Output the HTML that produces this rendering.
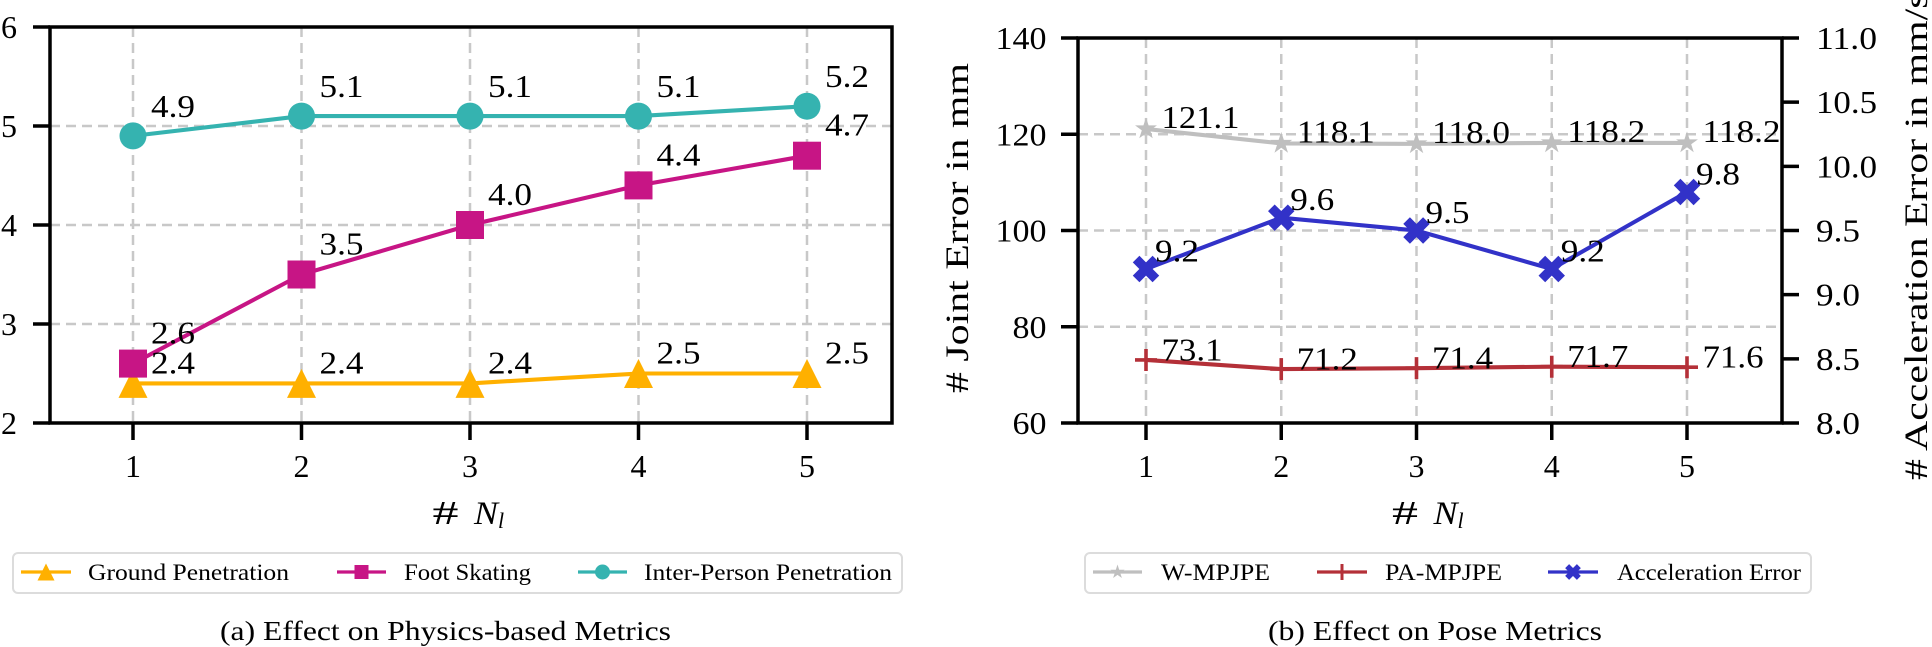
<!DOCTYPE html>
<html><head><meta charset="utf-8"><style>
html,body{margin:0;padding:0;background:#fff;}
svg{display:block;}
text{font-family:"Liberation Serif","DejaVu Serif",serif;fill:#000;}
</style></head><body>
<svg width="1932" height="647" viewBox="0 0 1932 647" xmlns="http://www.w3.org/2000/svg">
<defs>
<polygon id="star" points="0,-11.5 2.58,-3.55 10.94,-3.55 4.18,1.36 6.76,9.3 0,4.39 -6.76,9.3 -4.18,1.36 -10.94,-3.55 -2.58,-3.55" fill="#bfbfbf"/>
<polygon id="xm" points="-4.7,-14 4.7,-14 4.7,-4.7 14,-4.7 14,4.7 4.7,4.7 4.7,14 -4.7,14 -4.7,4.7 -14,4.7 -14,-4.7 -4.7,-4.7" fill="#3232c8" transform="rotate(45)"/>
<polygon id="xs" points="-2.8,-8.3 2.8,-8.3 2.8,-2.8 8.3,-2.8 8.3,2.8 2.8,2.8 2.8,8.3 -2.8,8.3 -2.8,2.8 -8.3,2.8 -8.3,-2.8 -2.8,-2.8" fill="#3232c8" transform="rotate(45)"/>
</defs>
<rect width="1932" height="647" fill="#fff"/>

<!-- ================= Chart A ================= -->
<g stroke="#c8c8c8" stroke-width="2.5" stroke-dasharray="10 6" fill="none">
<line x1="133" y1="27" x2="133" y2="423"/>
<line x1="301.5" y1="27" x2="301.5" y2="423"/>
<line x1="470" y1="27" x2="470" y2="423"/>
<line x1="638.5" y1="27" x2="638.5" y2="423"/>
<line x1="807" y1="27" x2="807" y2="423"/>
<line x1="50" y1="126" x2="892" y2="126"/>
<line x1="50" y1="225" x2="892" y2="225"/>
<line x1="50" y1="324" x2="892" y2="324"/>
</g>

<!-- Ground Penetration -->
<polyline points="133,383.4 301.5,383.4 470,383.4 638.5,373.5 807,373.5" fill="none" stroke="#ffb000" stroke-width="4.1"/>
<g fill="#ffb000">
<polygon points="133,368.9 118.5,397.9 147.5,397.9"/>
<polygon points="301.5,368.9 287,397.9 316,397.9"/>
<polygon points="470,368.9 455.5,397.9 484.5,397.9"/>
<polygon points="638.5,359 624,388 653,388"/>
<polygon points="807,359 792.5,388 821.5,388"/>
</g>
<!-- Foot Skating -->
<polyline points="133,363.6 301.5,274.5 470,225 638.5,185.4 807,155.7" fill="none" stroke="#c71585" stroke-width="4.1"/>
<g fill="#c71585">
<rect x="119" y="349.6" width="28" height="28"/>
<rect x="287.5" y="260.5" width="28" height="28"/>
<rect x="456" y="211" width="28" height="28"/>
<rect x="624.5" y="171.4" width="28" height="28"/>
<rect x="793" y="141.7" width="28" height="28"/>
</g>
<!-- Inter-Person Penetration -->
<polyline points="133,135.9 301.5,116.1 470,116.1 638.5,116.1 807,106.2" fill="none" stroke="#35b3b0" stroke-width="4.1"/>
<g fill="#35b3b0">
<circle cx="133" cy="135.9" r="13.5"/>
<circle cx="301.5" cy="116.1" r="13.5"/>
<circle cx="470" cy="116.1" r="13.5"/>
<circle cx="638.5" cy="116.1" r="13.5"/>
<circle cx="807" cy="106.2" r="13.5"/>
</g>

<g font-size="32">
<text x="151" y="116.9" textLength="44" lengthAdjust="spacingAndGlyphs">4.9</text>
<text x="319.5" y="97.1" textLength="44" lengthAdjust="spacingAndGlyphs">5.1</text>
<text x="488" y="97.1" textLength="44" lengthAdjust="spacingAndGlyphs">5.1</text>
<text x="656.5" y="97.1" textLength="44" lengthAdjust="spacingAndGlyphs">5.1</text>
<text x="825" y="87.2" textLength="44" lengthAdjust="spacingAndGlyphs">5.2</text>
<text x="151" y="343.6" textLength="44" lengthAdjust="spacingAndGlyphs">2.6</text>
<text x="319.5" y="254.5" textLength="44" lengthAdjust="spacingAndGlyphs">3.5</text>
<text x="488" y="205" textLength="44" lengthAdjust="spacingAndGlyphs">4.0</text>
<text x="656.5" y="165.4" textLength="44" lengthAdjust="spacingAndGlyphs">4.4</text>
<text x="825" y="135.7" textLength="44" lengthAdjust="spacingAndGlyphs">4.7</text>
<text x="151" y="373.4" textLength="44" lengthAdjust="spacingAndGlyphs">2.4</text>
<text x="319.5" y="373.4" textLength="44" lengthAdjust="spacingAndGlyphs">2.4</text>
<text x="488" y="373.4" textLength="44" lengthAdjust="spacingAndGlyphs">2.4</text>
<text x="656.5" y="363.5" textLength="44" lengthAdjust="spacingAndGlyphs">2.5</text>
<text x="825" y="363.5" textLength="44" lengthAdjust="spacingAndGlyphs">2.5</text>
</g>

<!-- spines & ticks A -->
<rect x="50" y="27" width="842" height="396" fill="none" stroke="#000" stroke-width="3.5"/>
<g stroke="#000" stroke-width="3.5">
<line x1="33" y1="27" x2="50" y2="27"/>
<line x1="33" y1="126" x2="50" y2="126"/>
<line x1="33" y1="225" x2="50" y2="225"/>
<line x1="33" y1="324" x2="50" y2="324"/>
<line x1="33" y1="423" x2="50" y2="423"/>
<line x1="133" y1="423" x2="133" y2="440"/>
<line x1="301.5" y1="423" x2="301.5" y2="440"/>
<line x1="470" y1="423" x2="470" y2="440"/>
<line x1="638.5" y1="423" x2="638.5" y2="440"/>
<line x1="807" y1="423" x2="807" y2="440"/>
</g>
<g font-size="32" text-anchor="end">
<text x="17" y="38">6</text>
<text x="17" y="137">5</text>
<text x="17" y="236">4</text>
<text x="17" y="335">3</text>
<text x="17" y="434">2</text>
</g>
<g font-size="32" text-anchor="middle">
<text x="133" y="477">1</text>
<text x="301.5" y="477">2</text>
<text x="470" y="477">3</text>
<text x="638.5" y="477">4</text>
<text x="807" y="477">5</text>
</g>
<text x="432.5" y="524" font-size="34" textLength="26" lengthAdjust="spacingAndGlyphs">#</text>
<text x="474" y="524" font-size="33" font-style="italic" textLength="24" lengthAdjust="spacingAndGlyphs">N</text>
<text x="498" y="528" font-size="22" font-style="italic">l</text>

<!-- legend A -->
<rect x="13" y="553" width="889" height="40" rx="5" fill="#fff" stroke="#dcdcdc" stroke-width="2"/>
<line x1="21" y1="572" x2="71" y2="572" stroke="#ffb000" stroke-width="3.2"/>
<polygon points="46,563.5 37.5,580.5 54.5,580.5" fill="#ffb000"/>
<text x="88" y="580" font-size="23" textLength="201" lengthAdjust="spacingAndGlyphs">Ground Penetration</text>
<line x1="337" y1="572" x2="386" y2="572" stroke="#c71585" stroke-width="3.2"/>
<rect x="354.5" y="565" width="14" height="14" fill="#c71585"/>
<text x="404" y="580" font-size="23" textLength="127" lengthAdjust="spacingAndGlyphs">Foot Skating</text>
<line x1="578" y1="572" x2="627" y2="572" stroke="#35b3b0" stroke-width="3.2"/>
<circle cx="602.5" cy="572" r="7.5" fill="#35b3b0"/>
<text x="644" y="580" font-size="23" textLength="248" lengthAdjust="spacingAndGlyphs">Inter-Person Penetration</text>

<text x="220" y="640" font-size="27" textLength="451" lengthAdjust="spacingAndGlyphs">(a) Effect on Physics-based Metrics</text>

<!-- ================= Chart B ================= -->
<g stroke="#c8c8c8" stroke-width="2.5" stroke-dasharray="10 6" fill="none">
<line x1="1146" y1="38" x2="1146" y2="423"/>
<line x1="1281.25" y1="38" x2="1281.25" y2="423"/>
<line x1="1416.5" y1="38" x2="1416.5" y2="423"/>
<line x1="1551.75" y1="38" x2="1551.75" y2="423"/>
<line x1="1687" y1="38" x2="1687" y2="423"/>
<line x1="1078" y1="134.25" x2="1782" y2="134.25"/>
<line x1="1078" y1="230.5" x2="1782" y2="230.5"/>
<line x1="1078" y1="326.75" x2="1782" y2="326.75"/>
</g>

<!-- W-MPJPE -->
<polyline points="1146,128.96 1281.25,143.4 1416.5,143.88 1551.75,142.9 1687,142.9" fill="none" stroke="#bfbfbf" stroke-width="4.1"/>
<use href="#star" x="1146" y="128.96"/>
<use href="#star" x="1281.25" y="143.4"/>
<use href="#star" x="1416.5" y="143.88"/>
<use href="#star" x="1551.75" y="142.9"/>
<use href="#star" x="1687" y="142.9"/>
<!-- PA-MPJPE -->
<polyline points="1146,359.96 1281.25,369.1 1416.5,368.14 1551.75,366.7 1687,367.2" fill="none" stroke="#b43038" stroke-width="4.1"/>
<g stroke="#b43038" stroke-width="3.6">
<path d="M1135,359.96H1157M1146,348.96V370.96"/>
<path d="M1270.25,369.1H1292.25M1281.25,358.1V380.1"/>
<path d="M1405.5,368.14H1427.5M1416.5,357.14V379.14"/>
<path d="M1540.75,366.7H1562.75M1551.75,355.7V377.7"/>
<path d="M1676,367.2H1698M1687,356.2V378.2"/>
</g>
<!-- Acceleration Error -->
<polyline points="1146,269 1281.25,217.67 1416.5,230.5 1551.75,269 1687,192" fill="none" stroke="#3232c8" stroke-width="4.1"/>
<g transform="translate(1146,269)"><use href="#xm"/></g>
<g transform="translate(1281.25,217.67)"><use href="#xm"/></g>
<g transform="translate(1416.5,230.5)"><use href="#xm"/></g>
<g transform="translate(1551.75,269)"><use href="#xm"/></g>
<g transform="translate(1687,192)"><use href="#xm"/></g>

<g font-size="32">
<text x="1161.5" y="128" textLength="78" lengthAdjust="spacingAndGlyphs">121.1</text>
<text x="1296.75" y="142.4" textLength="78" lengthAdjust="spacingAndGlyphs">118.1</text>
<text x="1432" y="142.9" textLength="78" lengthAdjust="spacingAndGlyphs">118.0</text>
<text x="1567.25" y="141.9" textLength="78" lengthAdjust="spacingAndGlyphs">118.2</text>
<text x="1702.5" y="141.9" textLength="78" lengthAdjust="spacingAndGlyphs">118.2</text>
<text x="1161.5" y="360.5" textLength="61" lengthAdjust="spacingAndGlyphs">73.1</text>
<text x="1296.75" y="369.6" textLength="61" lengthAdjust="spacingAndGlyphs">71.2</text>
<text x="1432" y="368.6" textLength="61" lengthAdjust="spacingAndGlyphs">71.4</text>
<text x="1567.25" y="367.2" textLength="61" lengthAdjust="spacingAndGlyphs">71.7</text>
<text x="1702.5" y="367.7" textLength="61" lengthAdjust="spacingAndGlyphs">71.6</text>
<text x="1155" y="261.5" textLength="44" lengthAdjust="spacingAndGlyphs">9.2</text>
<text x="1290.25" y="210.2" textLength="44" lengthAdjust="spacingAndGlyphs">9.6</text>
<text x="1425.5" y="223" textLength="44" lengthAdjust="spacingAndGlyphs">9.5</text>
<text x="1560.75" y="261.5" textLength="44" lengthAdjust="spacingAndGlyphs">9.2</text>
<text x="1696" y="184.5" textLength="44" lengthAdjust="spacingAndGlyphs">9.8</text>
</g>

<!-- spines & ticks B -->
<rect x="1078" y="38" width="704" height="385" fill="none" stroke="#000" stroke-width="3.5"/>
<g stroke="#000" stroke-width="3.5">
<line x1="1061" y1="38" x2="1078" y2="38"/>
<line x1="1061" y1="134.25" x2="1078" y2="134.25"/>
<line x1="1061" y1="230.5" x2="1078" y2="230.5"/>
<line x1="1061" y1="326.75" x2="1078" y2="326.75"/>
<line x1="1061" y1="423" x2="1078" y2="423"/>
<line x1="1782" y1="38" x2="1799" y2="38"/>
<line x1="1782" y1="102.17" x2="1799" y2="102.17"/>
<line x1="1782" y1="166.33" x2="1799" y2="166.33"/>
<line x1="1782" y1="230.5" x2="1799" y2="230.5"/>
<line x1="1782" y1="294.67" x2="1799" y2="294.67"/>
<line x1="1782" y1="358.83" x2="1799" y2="358.83"/>
<line x1="1782" y1="423" x2="1799" y2="423"/>
<line x1="1146" y1="423" x2="1146" y2="440"/>
<line x1="1281.25" y1="423" x2="1281.25" y2="440"/>
<line x1="1416.5" y1="423" x2="1416.5" y2="440"/>
<line x1="1551.75" y1="423" x2="1551.75" y2="440"/>
<line x1="1687" y1="423" x2="1687" y2="440"/>
</g>
<g font-size="32" text-anchor="end">
<text x="1046.5" y="49" textLength="51" lengthAdjust="spacingAndGlyphs">140</text>
<text x="1046.5" y="145.25" textLength="51" lengthAdjust="spacingAndGlyphs">120</text>
<text x="1046.5" y="241.5" textLength="51" lengthAdjust="spacingAndGlyphs">100</text>
<text x="1046.5" y="337.75" textLength="34" lengthAdjust="spacingAndGlyphs">80</text>
<text x="1046.5" y="434" textLength="34" lengthAdjust="spacingAndGlyphs">60</text>
</g>
<g font-size="32">
<text x="1816" y="49" textLength="61" lengthAdjust="spacingAndGlyphs">11.0</text>
<text x="1816" y="113.17" textLength="61" lengthAdjust="spacingAndGlyphs">10.5</text>
<text x="1816" y="177.33" textLength="61" lengthAdjust="spacingAndGlyphs">10.0</text>
<text x="1816" y="241.5" textLength="44" lengthAdjust="spacingAndGlyphs">9.5</text>
<text x="1816" y="305.67" textLength="44" lengthAdjust="spacingAndGlyphs">9.0</text>
<text x="1816" y="369.83" textLength="44" lengthAdjust="spacingAndGlyphs">8.5</text>
<text x="1816" y="434" textLength="44" lengthAdjust="spacingAndGlyphs">8.0</text>
</g>
<g font-size="32" text-anchor="middle">
<text x="1146" y="477">1</text>
<text x="1281.25" y="477">2</text>
<text x="1416.5" y="477">3</text>
<text x="1551.75" y="477">4</text>
<text x="1687" y="477">5</text>
</g>
<text x="1392" y="524" font-size="34" textLength="26" lengthAdjust="spacingAndGlyphs">#</text>
<text x="1433.5" y="524" font-size="33" font-style="italic" textLength="24" lengthAdjust="spacingAndGlyphs">N</text>
<text x="1457.5" y="528" font-size="22" font-style="italic">l</text>

<text transform="translate(968,228) rotate(-90)" font-size="33" text-anchor="middle" textLength="330" lengthAdjust="spacingAndGlyphs"># Joint Error in mm</text>
<text transform="translate(1927,230) rotate(-90)" font-size="33" text-anchor="middle" textLength="500" lengthAdjust="spacingAndGlyphs"># Acceleration Error in mm/s²</text>

<!-- legend B -->
<rect x="1085" y="553" width="726" height="40" rx="5" fill="#fff" stroke="#dcdcdc" stroke-width="2"/>
<line x1="1093" y1="572" x2="1142" y2="572" stroke="#bfbfbf" stroke-width="3.2"/>
<g transform="translate(1117.5,572) scale(0.65)"><use href="#star"/></g>
<text x="1161" y="580" font-size="23" textLength="109" lengthAdjust="spacingAndGlyphs">W-MPJPE</text>
<line x1="1317" y1="572" x2="1367" y2="572" stroke="#b43038" stroke-width="3.2"/>
<path d="M1342,564V580" stroke="#b43038" stroke-width="3"/>
<text x="1385" y="580" font-size="23" textLength="117" lengthAdjust="spacingAndGlyphs">PA-MPJPE</text>
<line x1="1548" y1="572" x2="1598" y2="572" stroke="#3232c8" stroke-width="3.2"/>
<g transform="translate(1573,572)"><use href="#xs"/></g>
<text x="1617" y="580" font-size="23" textLength="184" lengthAdjust="spacingAndGlyphs">Acceleration Error</text>

<text x="1268" y="640" font-size="27" textLength="334" lengthAdjust="spacingAndGlyphs">(b) Effect on Pose Metrics</text>
</svg>
</body></html>
